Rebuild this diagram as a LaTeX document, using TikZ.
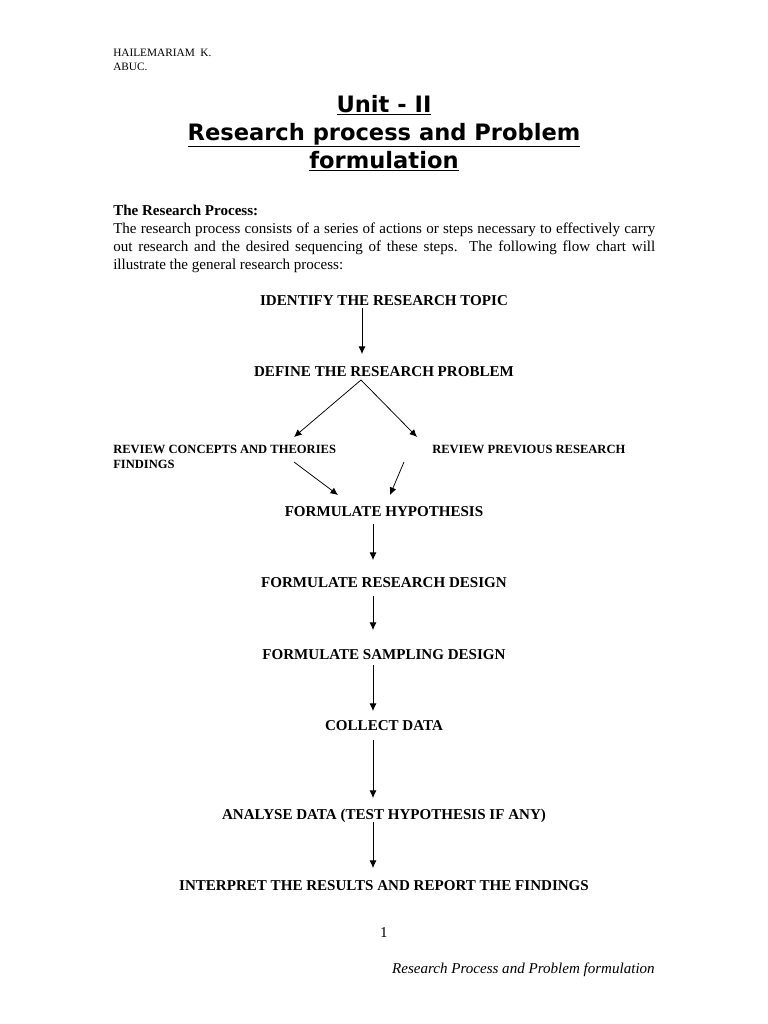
\documentclass[tikz,border=0pt]{standalone}
\usepackage{fontspec}
\setmainfont{Liberation Serif}
\newfontfamily\titlefont{DejaVu Sans}
\usetikzlibrary{arrows.meta}
\tikzset{stage/.style={inner sep=0, anchor=base, font=\bfseries\fontsize{12}{14}\selectfont}}
\tikzset{branch/.style={inner sep=0, anchor=base west, font=\bfseries\fontsize{10}{12}\selectfont}}
\tikzset{line/.style={inner sep=0, anchor=base west, font=\fontsize{12}{14}\selectfont}}
\tikzset{heading/.style={inner sep=0, anchor=base, font=\titlefont\bfseries\fontsize{18}{22}\selectfont}}
\tikzset{every edge/.style={draw, line width=0.6pt}}

\begin{document}
\begin{tikzpicture}[x=0.797pt, y=-0.797pt, >={Latex[length=6pt,width=5.5pt]}]
  \useasboundingbox[fill=white] (0,0) rectangle (768,1024);

  % page head and title
  \node[branch, font=\fontsize{9}{11}\selectfont] at (113,56) (author) {HAILEMARIAM\ \ K.};
  \node[branch, font=\fontsize{9}{11}\selectfont] at (113,70) (place) {ABUC.};
  \node[heading] at (384,112) (unit) {\underline{Unit - II}};
  \node[heading] at (384,140) (title) {\underline{Research process and Problem}};
  \node[heading] at (384,168) (title2) {\underline{formulation}};

  % introduction
  \node[line, font=\bfseries\fontsize{12}{14}\selectfont] at (113,215) (intro) {The Research Process:};
  \node[line] at (113,233) (body) {\makebox[432pt][s]{The research process consists of a series of actions or steps necessary to effectively carry}};
  \node[line] at (113,251) (body2) {\makebox[432pt][s]{out research and the desired sequencing of these steps.\ \ The following flow chart will}};
  \node[line] at (113,269) (body3) {illustrate the general research process:};

  % flow chart
  \node[stage] at (384,305) (topic) {IDENTIFY THE RESEARCH TOPIC};
  \node[stage] at (384,376) (problem) {DEFINE THE RESEARCH PROBLEM};
  \node[branch] at (113,453.5) (theory) {REVIEW CONCEPTS AND THEORIES};
  \node[branch] at (113,468.5) (theory2) {FINDINGS};
  \node[branch] at (432,453.5) (previous) {REVIEW PREVIOUS RESEARCH};
  \node[stage] at (384,516) (hypo) {FORMULATE HYPOTHESIS};
  \node[stage] at (384,587) (design) {FORMULATE RESEARCH DESIGN};
  \node[stage] at (384,659) (sampling) {FORMULATE SAMPLING DESIGN};
  \node[stage] at (384,730) (collect) {COLLECT DATA};
  \node[stage] at (384,819) (analyse) {ANALYSE DATA (TEST HYPOTHESIS IF ANY)};
  \node[stage] at (384,890) (report) {INTERPRET THE RESULTS AND REPORT THE FINDINGS};

    \draw ([shift={(-22,3)}]topic.base) edge[->] ([shift={(-22,-22)}]problem.base);

    \draw ([shift={(-23,4)}]problem.base) edge[->] ([shift={(181,-16.5)}]theory.base west);
    \draw ([shift={(-23,4)}]problem.base) edge[->] ([shift={(-15,-16.5)}]previous.base west);
    \draw ([shift={(181,8.5)}]theory.base west) edge[->] ([shift={(-46,-21)}]hypo.base);
    \draw ([shift={(-28,8.5)}]previous.base west) edge[->] ([shift={(6,-21)}]hypo.base);

    \draw ([shift={(-11,8)}]hypo.base) edge[->] ([shift={(-11,-27)}]design.base);
    \draw ([shift={(-11,9)}]design.base) edge[->] ([shift={(-11,-29)}]sampling.base);
    \draw ([shift={(-11,6)}]sampling.base) edge[->] ([shift={(-11,-19)}]collect.base);
    \draw ([shift={(-11,10)}]collect.base) edge[->] ([shift={(-11,-21)}]analyse.base);
    \draw ([shift={(-11,3)}]analyse.base) edge[->] ([shift={(-11,-22)}]report.base);

  % page foot
  \node[stage, font=\fontsize{12}{14}\selectfont] at (384,937) (page) {1};
  \node[line, anchor=base east, font=\itshape\fontsize{12}{14}\selectfont] at (655,973) (foot) {Research Process and Problem formulation};
\end{tikzpicture}
\end{document}
